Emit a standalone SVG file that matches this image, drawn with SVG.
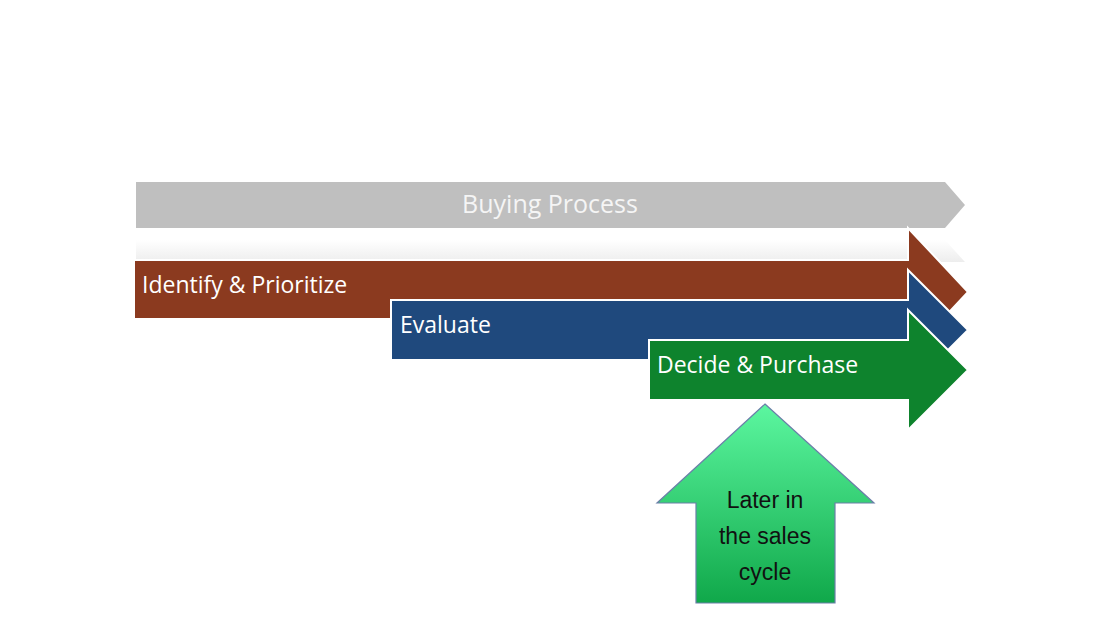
<svg xmlns="http://www.w3.org/2000/svg" width="1102" height="636" viewBox="0 0 1102 636">
<style>
.lbl{font-family:"Open Sans","Liberation Sans",sans-serif;font-size:23px;fill:#ffffff}
.stage{stroke:#ffffff;stroke-width:2}
</style>
<defs>
<linearGradient id="ug" x1="0" y1="0" x2="0" y2="1">
<stop offset="0" stop-color="#5cf7a0"/><stop offset="1" stop-color="#10a84a"/>
</linearGradient>
<linearGradient id="ref" x1="0" y1="0" x2="0" y2="1">
<stop offset="0" stop-color="#ffffff"/><stop offset="1" stop-color="#ededed"/>
</linearGradient>
</defs>
<rect width="1102" height="636" fill="#ffffff"/>
<g id="buying">
<polygon points="136,182 945,182 965,205 945,228 136,228" fill="#bfbfbf"/>
<text x="550" y="213" text-anchor="middle" class="lbl" style="font-size:25px;fill:#f5f5f5">Buying Process</text>
</g>
<g id="reflection">
<polygon points="136,240 945,240 965,262 136,262" fill="url(#ref)"/>
</g>
<g id="identify">
<polygon class="stage" points="134,260 908,260 908,228 968,292 908,356 908,319 134,319" fill="#8b3a1f"/>
<text x="142" y="293" class="lbl">Identify &amp; Prioritize</text>
</g>
<g id="evaluate">
<polygon class="stage" points="391,300 908,300 908,270 968,330 908,390 908,360 391,360" fill="#1f497d"/>
<text x="400" y="333" class="lbl">Evaluate</text>
</g>
<g id="decide">
<polygon class="stage" points="649,340 908,340 908,310 968,370 908,430 908,400 649,400" fill="#0e832d"/>
<text x="657" y="373" class="lbl">Decide &amp; Purchase</text>
</g>
<g id="later">
<polygon points="765,404 874,503 835,503 835,603 696,603 696,503 657,503" fill="url(#ug)" stroke="#6a7fa8" stroke-width="1.2"/>
<text text-anchor="middle" font-family="Liberation Sans, Arial, sans-serif" font-size="23" fill="#111">
<tspan x="765" y="508">Later in</tspan><tspan x="765" y="544">the sales</tspan><tspan x="765" y="580">cycle</tspan></text>
</g>
</svg>
